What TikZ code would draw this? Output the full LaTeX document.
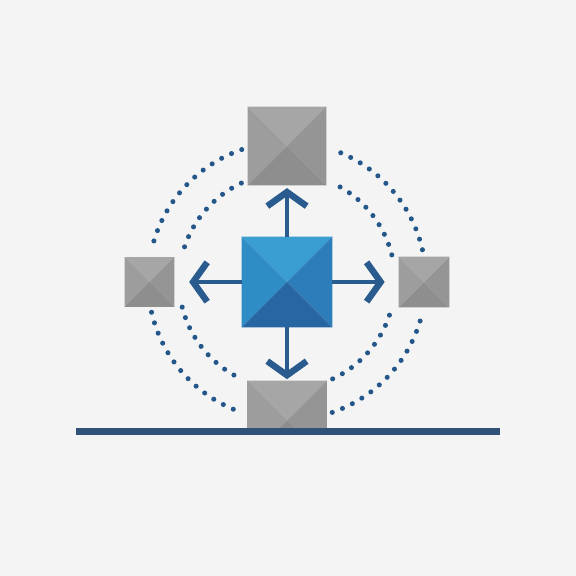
\documentclass[tikz,border=0pt]{standalone}
\usetikzlibrary{arrows.meta}
\definecolor{bgcol}{HTML}{F4F4F4}
\definecolor{arrowblue}{HTML}{2A5B8E}
\definecolor{dotblue}{HTML}{245789}
\definecolor{baseblue}{HTML}{2F5279}
\definecolor{gtop}{HTML}{A6A6A6}
\definecolor{gleft}{HTML}{9D9D9D}
\definecolor{gright}{HTML}{959595}
\definecolor{gbot}{HTML}{8E8E8E}
\definecolor{btop}{HTML}{3A9ED1}
\definecolor{bleft}{HTML}{2F8DC5}
\definecolor{bright}{HTML}{2C7DB9}
\definecolor{bbot}{HTML}{2766A2}
% four shaded faces of a pyramid box
\newcommand{\pyrfill}[5]{%
  \fill[#2] (#1.north west) -- (#1.north east) -- (#1.center) -- cycle;
  \fill[#3] (#1.north west) -- (#1.south west) -- (#1.center) -- cycle;
  \fill[#4] (#1.north east) -- (#1.south east) -- (#1.center) -- cycle;
  \fill[#5] (#1.south west) -- (#1.south east) -- (#1.center) -- cycle;}

\begin{document}
\begin{tikzpicture}[x=0.025cm, y=0.025cm,
    pyr/.style={rectangle, inner sep=0pt, minimum size=#1},
    arr/.style={draw=arrowblue, line width=3pt,
      -{Straight Barb[length=10pt, width=28pt, line width=4.6pt]}},
    ring/.style={draw=dotblue, line width=3.6pt, line cap=round,
      dash pattern=on 0pt off 7.8pt},
    base/.style={draw=baseblue, line width=5pt}]
  \fill[bgcol] (-287,-295) rectangle (289,281);
  \useasboundingbox (-287,-295) rectangle (289,281);

  \node[pyr=2.25cm] (hub) at (0,-1) {};
  \node[pyr=1.95cm] (top) at (0,135) {};
  \node[pyr=1.23cm] (west) at (-137.5,-1) {};
  \node[pyr=1.25cm] (east) at (137,-1) {};
  \node[pyr=1.98cm] (bottom) at (0,-139.5) {};

  % dotted rings
  \foreach \a/\b in {13/71, 109/167, 193/251, 289/347}
    \draw[ring] (\a:139) arc[start angle=\a, end angle=\b, radius=139];
  \foreach \a/\b in {14/65, 115/166, 194/245, 295/346}
    \draw[ring] (\a:108) arc[start angle=\a, end angle=\b, radius=108];

  \pyrfill{hub}{btop}{bleft}{bright}{bbot}
  \pyrfill{top}{gtop}{gleft}{gright}{gbot}
  \pyrfill{west}{gtop}{gleft}{gright}{gbot}
  \pyrfill{east}{gtop}{gleft}{gright}{gbot}
  \begin{scope}
    \clip (-60,-147) rectangle (60,-90);
    \pyrfill{bottom}{gtop}{gleft}{gright}{gbot}
  \end{scope}

  \draw[arr, shorten >=2pt] (hub) -- (top);
  \draw[arr, shorten >=1pt] (hub) -- (bottom);
  \draw[arr, shorten >=10.5pt] (hub) -- (west);
  \draw[arr, shorten >=10pt] (hub) -- (east);

  \draw[base] (-211,-150.5) -- (213,-150.5);
\end{tikzpicture}
\end{document}
